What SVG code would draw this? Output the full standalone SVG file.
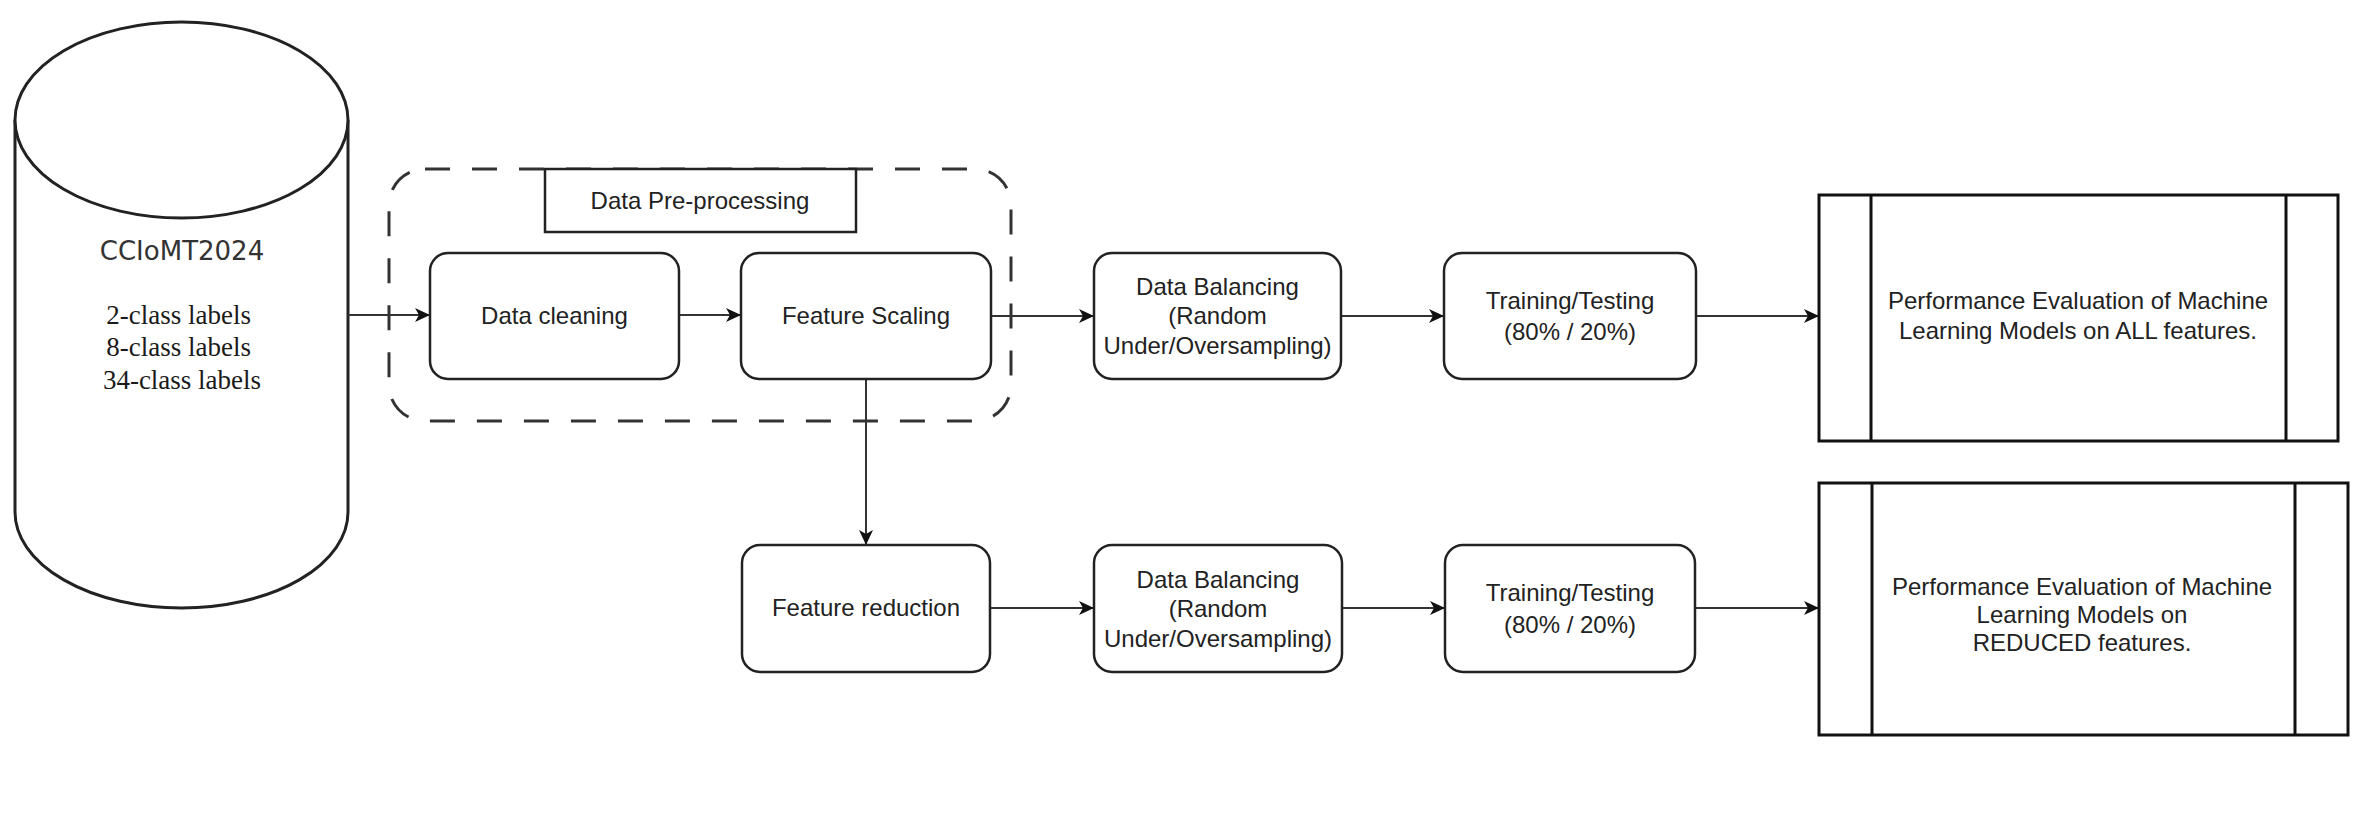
<svg xmlns="http://www.w3.org/2000/svg" width="2367" height="814" viewBox="0 0 2367 814">
<defs>
<style>
.box{fill:#fff;stroke:#222;stroke-width:2.5}
.t{font-family:"Liberation Sans",Arial,sans-serif;font-size:24px;fill:#222;text-anchor:middle}
.c{fill:none;stroke:#333;stroke-width:2}
</style>
<marker id="ah" markerUnits="userSpaceOnUse" markerWidth="16" markerHeight="14" refX="15" refY="7" orient="auto">
<path d="M0,0 L15,7 L0,14 L4,7 Z" fill="#111"/>
</marker>
</defs>
<rect width="2367" height="814" fill="#fff"/>

<g id="dataset">
<path d="M15,120 L15,512 A166.5,96 0 0 0 348,512 L348,120" fill="#fff" stroke="#222" stroke-width="3"/>
<ellipse cx="181.5" cy="120" rx="166.5" ry="98" fill="#fff" stroke="#222" stroke-width="3"/>
<text x="182" y="260" style="font-family:'DejaVu Sans',Verdana,sans-serif;font-size:26px;fill:#333;text-anchor:middle">CCIoMT2024</text>
<text style="font-family:'Liberation Serif','Times New Roman',serif;font-size:27px;fill:#1a1a1a;text-anchor:middle">
<tspan x="182" y="324">2-class labels</tspan>
<tspan x="182" y="356">8-class labels</tspan>
<tspan x="182" y="389">34-class labels</tspan>
</text>
</g>

<g id="preprocessing-group">
<rect x="389" y="169" width="622" height="252" rx="36" ry="36" fill="none" stroke="#333" stroke-width="3" stroke-dasharray="25,22"/>
</g>
<g id="preprocessing-label">
<rect x="545" y="169" width="311" height="63" fill="#fff" stroke="#222" stroke-width="2.5"/>
<text class="t" x="700" y="209">Data Pre-processing</text>
</g>

<g id="connectors">
<line class="c" x1="348" y1="315" x2="430" y2="315" marker-end="url(#ah)"/>
<line class="c" x1="679" y1="315" x2="741" y2="315" marker-end="url(#ah)"/>
<line class="c" x1="991" y1="316" x2="1094" y2="316" marker-end="url(#ah)"/>
<line class="c" x1="1341" y1="316" x2="1444" y2="316" marker-end="url(#ah)"/>
<line class="c" x1="1696" y1="316" x2="1819" y2="316" marker-end="url(#ah)"/>
<line class="c" x1="866" y1="379" x2="866" y2="545" marker-end="url(#ah)"/>
<line class="c" x1="990" y1="608" x2="1094" y2="608" marker-end="url(#ah)"/>
<line class="c" x1="1342" y1="608" x2="1445" y2="608" marker-end="url(#ah)"/>
<line class="c" x1="1695" y1="608" x2="1819" y2="608" marker-end="url(#ah)"/>
</g>

<g id="data-cleaning">
<rect class="box" x="430" y="253" width="249" height="126" rx="18" ry="18"/>
<text class="t" x="554.5" y="324">Data cleaning</text>
</g>

<g id="feature-scaling">
<rect class="box" x="741" y="253" width="250" height="126" rx="18" ry="18"/>
<text class="t" x="866" y="324">Feature Scaling</text>
</g>

<g id="data-balancing-1">
<rect class="box" x="1094" y="253" width="247" height="126" rx="18" ry="18"/>
<text class="t"><tspan x="1217.5" y="295">Data Balancing</tspan><tspan x="1217.5" y="324">(Random</tspan><tspan x="1217.5" y="354">Under/Oversampling)</tspan></text>
</g>

<g id="training-testing-1">
<rect class="box" x="1444" y="253" width="252" height="126" rx="18" ry="18"/>
<text class="t"><tspan x="1570" y="309">Training/Testing</tspan><tspan x="1570" y="340">(80% / 20%)</tspan></text>
</g>

<g id="evaluation-all">
<rect x="1819" y="195" width="519" height="246" fill="#fff" stroke="#111" stroke-width="3"/>
<line x1="1871" y1="195" x2="1871" y2="441" stroke="#111" stroke-width="3"/>
<line x1="2286" y1="195" x2="2286" y2="441" stroke="#111" stroke-width="3"/>
<text class="t"><tspan x="2078" y="309">Performance Evaluation of Machine</tspan><tspan x="2078" y="339">Learning Models on ALL features.</tspan></text>
</g>

<g id="feature-reduction">
<rect class="box" x="742" y="545" width="248" height="127" rx="18" ry="18"/>
<text class="t" x="866" y="616">Feature reduction</text>
</g>

<g id="data-balancing-2">
<rect class="box" x="1094" y="545" width="248" height="127" rx="18" ry="18"/>
<text class="t"><tspan x="1218" y="588">Data Balancing</tspan><tspan x="1218" y="617">(Random</tspan><tspan x="1218" y="647">Under/Oversampling)</tspan></text>
</g>

<g id="training-testing-2">
<rect class="box" x="1445" y="545" width="250" height="127" rx="18" ry="18"/>
<text class="t"><tspan x="1570" y="601">Training/Testing</tspan><tspan x="1570" y="633">(80% / 20%)</tspan></text>
</g>

<g id="evaluation-reduced">
<rect x="1819" y="483" width="529" height="252" fill="#fff" stroke="#111" stroke-width="3"/>
<line x1="1872" y1="483" x2="1872" y2="735" stroke="#111" stroke-width="3"/>
<line x1="2295" y1="483" x2="2295" y2="735" stroke="#111" stroke-width="3"/>
<text class="t"><tspan x="2082" y="595">Performance Evaluation of Machine</tspan><tspan x="2082" y="623">Learning Models on</tspan><tspan x="2082" y="651">REDUCED features.</tspan></text>
</g>
</svg>
